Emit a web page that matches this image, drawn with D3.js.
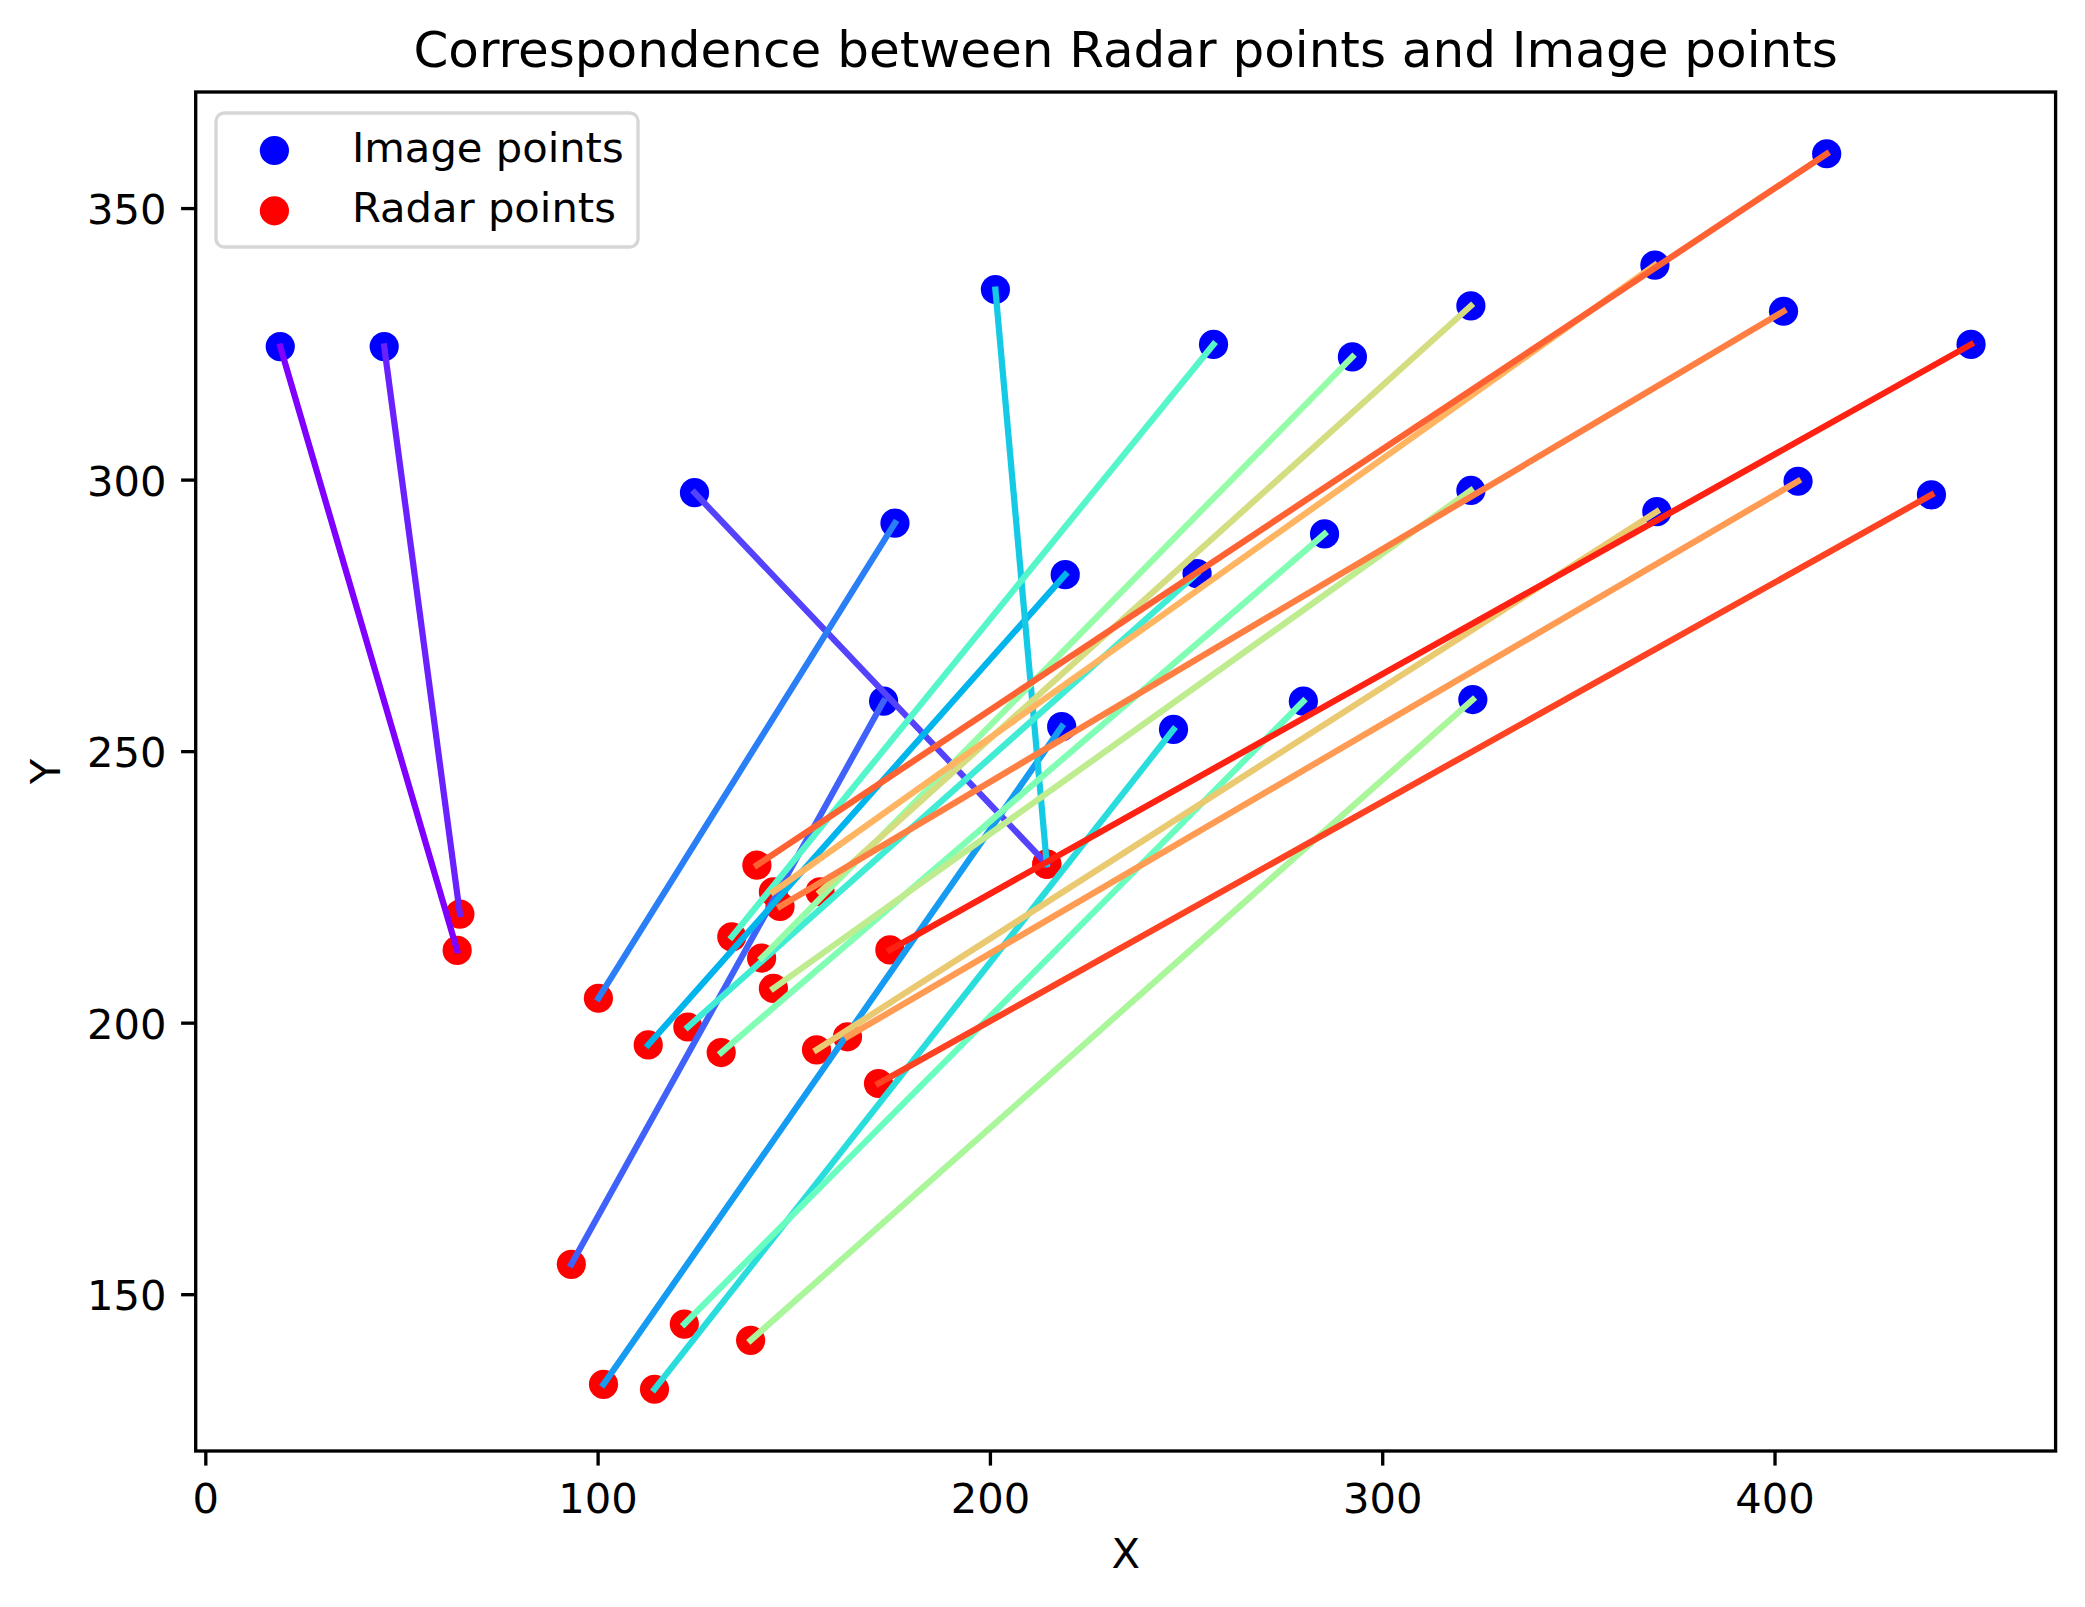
<!DOCTYPE html>
<html>
<head>
<meta charset="utf-8">
<script src="https://cdn.jsdelivr.net/npm/d3@7"></script>
<style>
  body { margin: 0; background: #ffffff; }
  svg { display: block; }
  text { font-family: "DejaVu Sans", sans-serif; fill: #000; }
</style>
</head>
<body>
<svg id="chart" width="2085" height="1607"></svg>
<script>
// ---- data ----
const imageX = [19.1, 45.6, 124.7, 172.9, 175.8, 218.3, 219.2, 201.4, 246.8, 252.8, 257.0, 279.9,
                285.3, 292.4, 323.1, 322.6, 322.6, 370.0, 369.5, 406.0, 402.3, 413.3, 440.0, 450.1];
const imageY = [324.5, 324.5, 297.6, 259.2, 292.0, 254.5, 282.5, 335.0, 254.0, 282.7, 324.9, 259.2,
                290.0, 322.6, 259.5, 298.0, 332.0, 294.1, 339.5, 299.7, 331.0, 360.0, 297.2, 324.9];
const radarX = [64.2, 64.9, 214.5, 93.3, 100.2, 101.5, 112.9, 214.5, 114.5, 123.0, 134.2, 122.1,
                131.5, 141.8, 139.0, 144.8, 156.7, 155.8, 144.8, 163.7, 146.5, 140.6, 171.6, 174.5];
const radarY = [213.3, 220.0, 229.2, 155.5, 204.5, 133.4, 195.9, 229.2, 132.5, 199.2, 215.8, 144.5,
                194.5, 211.9, 141.5, 206.3, 224.1, 195.0, 224.1, 197.4, 221.4, 229.0, 188.8, 213.4];
const xTicks = [0, 100, 200, 300, 400];
const yTicks = [150, 200, 250, 300, 350];
const legendLabels = ["Image points", "Radar points"];
const titleText = "Correspondence between Radar points and Image points";
const xLabel = "X";
const yLabel = "Y";

// ---- layout ----
const plotLeft = 195.7, plotRight = 2055.6, plotTop = 92, plotBottom = 1451;
const tickLen = 14.6, lw = 3.33;
const fs = 41.67;

const svg = d3.select("#chart");

// matplotlib "rainbow" colormap
function rainbow(t) {
  const r = Math.min(1, Math.abs(2 * t - 0.5));
  const g = Math.max(0, Math.sin(t * Math.PI));
  const b = Math.max(0, Math.cos(t * Math.PI / 2));
  return d3.rgb(r * 255, g * 255, b * 255).formatHex();
}

// domains with 5% margins like matplotlib autoscale
const allX = imageX.concat(radarX), allY = imageY.concat(radarY);
const [xMin, xMax] = d3.extent(allX), [yMin, yMax] = d3.extent(allY);
const mx = (xMax - xMin) * 0.05, my = (yMax - yMin) * 0.05;
const x = d3.scaleLinear().domain([xMin - mx, xMax + mx]).range([plotLeft, plotRight]);
const y = d3.scaleLinear().domain([yMin - my, yMax + my]).range([plotBottom, plotTop]);

const n = imageX.length;
const pairs = d3.range(n).map(i => ({
  ix: imageX[i], iy: imageY[i], rx: radarX[i], ry: radarY[i], c: rainbow(i / n)
}));

const plot = svg.append("g");
const msize = 14.6;

// scatter: image points then radar points
plot.selectAll("circle.img").data(pairs).join("circle")
  .attr("class", "img")
  .attr("cx", d => x(d.ix)).attr("cy", d => y(d.iy)).attr("r", msize)
  .attr("fill", "#0000ff");
plot.selectAll("circle.rad").data(pairs).join("circle")
  .attr("class", "rad")
  .attr("cx", d => x(d.rx)).attr("cy", d => y(d.ry)).attr("r", msize)
  .attr("fill", "#ff0000");

// correspondence lines on top
plot.selectAll("line.pair").data(pairs).join("line")
  .attr("class", "pair")
  .attr("x1", d => x(d.rx)).attr("y1", d => y(d.ry))
  .attr("x2", d => x(d.ix)).attr("y2", d => y(d.iy))
  .attr("stroke", d => d.c)
  .attr("stroke-width", 6.25)
  .attr("stroke-linecap", "square");

// axes
const xAxis = d3.axisBottom(x).tickValues(xTicks).tickSize(tickLen).tickPadding(17.8).tickFormat(d3.format("d"));
const yAxis = d3.axisLeft(y).tickValues(yTicks).tickSize(tickLen).tickPadding(14.6).tickFormat(d3.format("d"));

const gx = svg.append("g").attr("transform", `translate(0,${plotBottom})`).call(xAxis);
const gy = svg.append("g").attr("transform", `translate(${plotLeft},0)`).call(yAxis);
[gx, gy].forEach(g => {
  g.select(".domain").remove();
  g.selectAll(".tick line").attr("stroke", "#000").attr("stroke-width", lw);
  g.selectAll(".tick text").attr("font-size", fs).attr("font-family", "DejaVu Sans").attr("fill", "#000");
});
gy.selectAll(".tick text").attr("dy", "0.37em");

// frame
svg.append("rect")
  .attr("x", plotLeft).attr("y", plotTop)
  .attr("width", plotRight - plotLeft).attr("height", plotBottom - plotTop)
  .attr("fill", "none").attr("stroke", "#000").attr("stroke-width", lw);

// title and labels
svg.append("text").attr("x", (plotLeft + plotRight) / 2).attr("y", 67)
  .attr("text-anchor", "middle").attr("font-size", 50).text(titleText);
svg.append("text").attr("x", (plotLeft + plotRight) / 2).attr("y", 1568)
  .attr("text-anchor", "middle").attr("font-size", fs).text(xLabel);
svg.append("text").attr("transform", `translate(60,${(plotTop + plotBottom) / 2}) rotate(-90)`)
  .attr("text-anchor", "middle").attr("font-size", fs).text(yLabel);

// legend
const lg = svg.append("g");
lg.append("rect")
  .attr("x", 216).attr("y", 113).attr("width", 422).attr("height", 134)
  .attr("rx", 8.3).attr("ry", 8.3)
  .attr("fill", "#ffffff").attr("fill-opacity", 0.8)
  .attr("stroke", "#cccccc").attr("stroke-opacity", 0.8).attr("stroke-width", lw);
const legendColors = ["#0000ff", "#ff0000"];
legendLabels.forEach((lab, i) => {
  const cy = 150.5 + i * 60.3;
  lg.append("circle").attr("cx", 274.4).attr("cy", cy).attr("r", msize).attr("fill", legendColors[i]);
  lg.append("text").attr("x", 352).attr("y", cy + 11.3).attr("font-size", fs).text(lab);
});
</script>
</body>
</html>
